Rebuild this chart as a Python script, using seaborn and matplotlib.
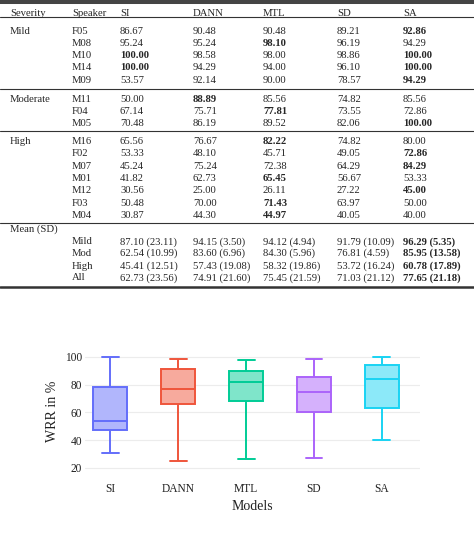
import numpy as np
import pandas as pd
import matplotlib
matplotlib.use("Agg")
import matplotlib.pyplot as plt
import seaborn as sns

sns.set_theme(style="white")
plt.rcParams['font.family'] = ['Liberation Serif', 'DejaVu Serif']

# --- data (WRR in % per speaker, ordered as in the table) ---
models = ["SI", "DANN", "MTL", "SD", "SA"]
severity = ["Mild", "Moderate", "High"]
speakers = [["F05", "M08", "M10", "M14", "M09"],
            ["M11", "F04", "M05"],
            ["M16", "F02", "M07", "M01", "M12", "F03", "M04"]]

wrr_si = [86.67, 95.24, 100.00, 100.00, 53.57, 50.00, 67.14, 70.48,
          65.56, 53.33, 45.24, 41.82, 30.56, 50.48, 30.87]
wrr_dann = [90.48, 95.24, 98.58, 94.29, 92.14, 88.89, 75.71, 86.19,
            76.67, 48.10, 75.24, 62.73, 25.00, 70.00, 44.30]
wrr_mtl = [90.48, 98.10, 98.00, 94.00, 90.00, 85.56, 77.81, 89.52,
           82.22, 45.71, 72.38, 65.45, 26.11, 71.43, 44.97]
wrr_sd = [89.21, 96.19, 98.86, 96.10, 78.57, 74.82, 73.55, 82.06,
          74.82, 49.05, 64.29, 56.67, 27.22, 63.97, 40.05]
wrr_sa = [92.86, 94.29, 100.00, 100.00, 94.29, 85.56, 72.86, 100.00,
          80.00, 72.86, 84.29, 53.33, 45.00, 50.00, 40.00]

mean_labels = ["Mild", "Mod", "High", "All"]
mean_wrr = [[87.10, 94.15, 94.12, 91.79, 96.29],
            [62.54, 83.60, 84.30, 76.81, 85.95],
            [45.41, 57.43, 58.32, 53.72, 60.78],
            [62.73, 74.91, 75.45, 71.03, 77.65]]
sd_wrr = [[23.11, 3.50, 4.94, 10.09, 5.35],
          [10.99, 6.96, 5.96, 4.59, 13.58],
          [12.51, 19.08, 19.86, 16.24, 17.89],
          [23.56, 21.60, 21.59, 21.12, 21.18]]

line_colors = ["#636efa", "#ef553b", "#00cc96", "#ab63fa", "#19d3f3"]
fill_colors = ["#b1b6fc", "#f7aa9d", "#7fe5ca", "#d5b1fc", "#8ce9f9"]

per_model = [wrr_si, wrr_dann, wrr_mtl, wrr_sd, wrr_sa]
df = pd.DataFrame({
    "model": np.repeat(models, len(wrr_si)),
    "wrr": np.concatenate(per_model),
})

fig = plt.figure(figsize=(4.74, 5.37), dpi=100)

# --- table, drawn in pixel coordinates ---
tab = fig.add_axes([0, 0, 1, 1])
tab.set_xlim(0, 474)
tab.set_ylim(537, 0)
tab.axis("off")

txt = "#262626"
fs = 7.7
base = 3.6  # centre -> baseline offset
col_x = [120, 193, 263, 337, 403]
group_y = [[30, 42.3, 54.5, 66.7, 79],
           [98.3, 110.3, 122.5],
           [140.3, 152.6, 165, 177.3, 189.7, 202.3, 214.5]]
mean_y = [240.7, 252.6, 265, 276.9]

def put(x, y, s, bold=False):
    tab.text(x, y + base, s, fontsize=fs, color=txt, va="baseline",
             ha="left", fontweight="bold" if bold else "normal")

put(10, 12, "Severity")
put(72, 12, "Speaker")
for j, m in enumerate(models):
    put(col_x[j], 12, m)

k = 0
for g, sev in enumerate(severity):
    put(10, group_y[g][0], sev)
    for r, spk in enumerate(speakers[g]):
        y = group_y[g][r]
        put(72, y, spk)
        row = [vals[k] for vals in per_model]
        for j, v in enumerate(row):
            put(col_x[j], y, f"{v:.2f}", bold=(v == max(row)))
        k += 1

put(10, 228.3, "Mean (SD)")
for r, lab in enumerate(mean_labels):
    y = mean_y[r]
    put(72, y, lab)
    for j in range(len(models)):
        m, s = mean_wrr[r][j], sd_wrr[r][j]
        put(col_x[j], y, f"{m:.2f} ({s:.2f})", bold=(m == max(mean_wrr[r])))

rule = "#333333"
tab.axhline(2, color="#444444", lw=2.9)
for y in [17.3, 89.3, 131, 222.7]:
    tab.axhline(y, color=rule, lw=0.8)
tab.axhline(287.3, color=rule, lw=1.8)

# --- box plot ---
ax = fig.add_axes([85 / 474, 1 - 472 / 537, 335 / 474, 121 / 537])
for i, m in enumerate(models):
    sns.boxplot(data=df[df["model"] == m], x="model", y="wrr", order=models,
                color=fill_colors[i], linecolor=line_colors[i], linewidth=1.4,
                width=0.5, whis=(0, 100), saturation=1, showfliers=False,
                ax=ax)

ax.set_xlim(-0.37, 4.56)
ax.set_ylim(17.1, 104.3)
ax.set_yticks([20, 40, 60, 80, 100])
ax.yaxis.grid(True, color="#ececec", lw=0.8)
ax.set_axisbelow(True)
for sp in ax.spines.values():
    sp.set_visible(False)
ax.tick_params(axis="both", length=0, colors="#222222", labelsize=8.3)
ax.tick_params(axis="x", pad=8)
ax.tick_params(axis="y", pad=2)
ax.set_xlabel("Models", fontsize=10, color="#222222", labelpad=3.5)
ax.set_ylabel("WRR in %", fontsize=10, color="#222222", labelpad=4)

fig.savefig("out.png", dpi=100)
